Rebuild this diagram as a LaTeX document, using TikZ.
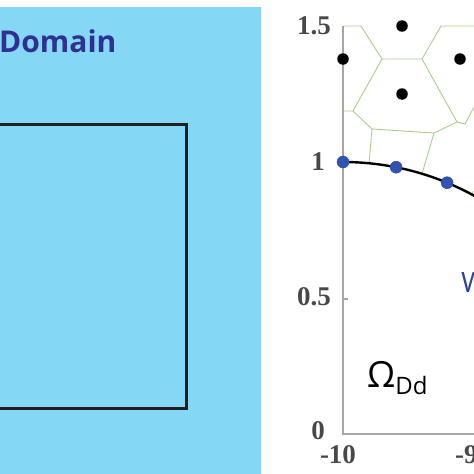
\documentclass[tikz,border=0pt]{standalone}
\usepackage{fontspec}
\setmainfont{Liberation Serif}
\newfontfamily\sansfam{Open Sans}
\definecolor{panelblue}{RGB}{132,215,245}
\definecolor{domainblue}{RGB}{46,49,146}
\definecolor{wallblue}{RGB}{45,62,160}
\definecolor{dotblue}{RGB}{48,84,178}
\definecolor{vorgreen}{RGB}{172,206,140}
\definecolor{axisgray}{RGB}{165,165,165}
\definecolor{ticktext}{RGB}{72,72,72}
\tikzset{
  vor/.style={draw=vorgreen, line width=0.9pt},
  axisline/.style={draw=axisgray, line width=1.4pt},
  bdot/.style={circle, fill=black, inner sep=0pt, minimum size=11.5pt},
  bluedot/.style={circle, fill=dotblue, draw=dotblue!80!black, line width=0.4pt, inner sep=0pt, minimum size=12pt},
  ticklab/.style={font=\bfseries\fontsize{27}{27}\selectfont, text=ticktext, inner sep=0pt},
}
\begin{document}
\begin{tikzpicture}[x=1pt,y=-1pt]
\useasboundingbox (0,0) rectangle (474,474);
\clip (0,0) rectangle (474,474);
\fill[white] (0,0) rectangle (474,474);
% left panel
\fill[panelblue] (0,7) rectangle (261,474);
\draw[line width=3pt, black!88] (-5,124) -- (186,124) -- (186,408) -- (-5,408);
\node[anchor=base west, inner sep=0pt, text=domainblue,
      font=\sansfam\bfseries\fontsize{30}{30}\selectfont] (dom) at (-1,52) {Domain};
% voronoi cells
\draw[vor] (343,26) -- (361,26) -- (382,59) -- (422,59) -- (441,26) -- (474,26);
\draw[vor] (382,59) -- (353,111) -- (343,111);
\draw[vor] (353,111) -- (372,129) -- (434,133) -- (457,122) -- (422,59);
\draw[vor] (372,129) -- (369,164);
\draw[vor] (434,133) -- (422,174);
\draw[vor] (457,122) -- (465,124) -- (474,107);
\draw[vor] (471,196) -- (474,191);
% axes
\draw[axisline] (343,26) -- (343,434) -- (480,434);
\draw[axisline] (343,299) -- (348,299);
% boundary curve
\draw[line width=2.4pt, black] plot[domain=90:58, samples=40] ({343+272*cos(\x)}, {434-272*sin(\x)});
% dots
\node[bluedot] (b1) at (343,162) {};
\node[bluedot] (b2) at (396.1,167.2) {};
\node[bluedot] (b3) at (447.1,182.7) {};
\node[bdot] (k1) at (343,59) {};
\node[bdot] (k2) at (402,26) {};
\node[bdot] (k3) at (402,94) {};
\node[bdot] (k4) at (460,59) {};
% tick labels
\node[ticklab, anchor=east] (y15) at (331,26) {1.5};
\node[ticklab, anchor=east] (y1) at (325,162) {1};
\node[ticklab, anchor=east] (y05) at (331,297) {0.5};
\node[ticklab, anchor=east] (y0) at (325,431) {0};
\node[ticklab] (x10) at (338,455) {-10};
\node[ticklab, anchor=west] (x95) at (455,455) {-9.5};
% labels
\node[anchor=base west, inner sep=0pt, font=\sansfam\fontsize{36}{36}\selectfont] (om) at (367,387)
  {Ω\raisebox{-7pt}{\fontsize{24}{24}\selectfont Dd}};
\node[anchor=base west, inner sep=0pt, text=wallblue, font=\sansfam\fontsize{28}{28}\selectfont] (w) at (461,292) {W};
\end{tikzpicture}
\end{document}
